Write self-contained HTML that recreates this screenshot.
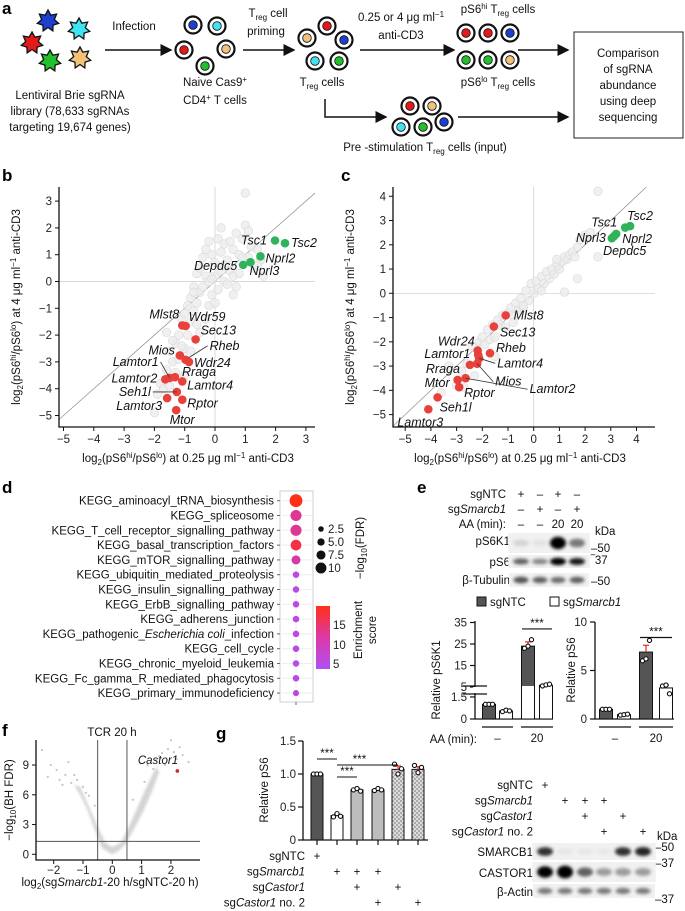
<!DOCTYPE html>
<html><head><meta charset="utf-8">
<style>
html,body{margin:0;padding:0;background:#fff;}
svg{display:block;font-family:"Liberation Sans",Arial,sans-serif;}
.pl{font-weight:bold;font-size:17px;}
.t{font-size:11.5px;fill:#111;}
.tk{font-size:11.5px;fill:#222;}
.it{font-style:italic;}
</style></head>
<body>
<svg id="fig" width="685" height="911" viewBox="0 0 685 911" xmlns="http://www.w3.org/2000/svg">
<defs>
<marker id="arr" markerWidth="8" markerHeight="8" refX="7" refY="4" orient="auto"><path d="M0,0 L8,4 L0,8 z" fill="#111"/></marker>
<filter id="blur" x="-30%" y="-60%" width="160%" height="220%"><feGaussianBlur stdDeviation="1.6"/></filter>
<filter id="soft" x="-10%" y="-10%" width="120%" height="120%"><feGaussianBlur stdDeviation="1.2"/></filter>
<clipPath id="clipB"><rect x="59" y="187" width="256" height="240"/></clipPath>
<clipPath id="clipC"><rect x="393" y="187" width="262" height="240"/></clipPath>
<linearGradient id="cbar" x1="0" y1="0" x2="0" y2="1"><stop offset="0" stop-color="#ff3018"/><stop offset="0.5" stop-color="#dc38a8"/><stop offset="1" stop-color="#b050f2"/></linearGradient>
<pattern id="chk" width="4" height="4" patternUnits="userSpaceOnUse"><rect width="4" height="4" fill="#ddd"/><rect width="2" height="2" fill="#aaa"/><rect x="2" y="2" width="2" height="2" fill="#aaa"/></pattern>
</defs>

<text class="pl" x="2" y="14">a</text>
<text class="pl" x="2" y="181">b</text>
<text class="pl" x="341" y="181">c</text>
<text class="pl" x="2" y="493">d</text>
<text class="pl" x="417" y="493">e</text>
<text class="pl" x="2" y="736">f</text>
<text class="pl" x="216" y="739">g</text>

<g id="panelA">
<text class="t" x="134" y="30" text-anchor="middle">Infection</text>
<line x1="105" y1="50" x2="171" y2="50" stroke="#111" stroke-width="1.5" marker-end="url(#arr)"/>
<text class="t" x="268" y="17" text-anchor="middle">T<tspan font-size="8" dy="3">reg</tspan><tspan dy="-3"> cell</tspan></text>
<text class="t" x="266" y="35" text-anchor="middle">priming</text>
<line x1="243" y1="50" x2="294" y2="50" stroke="#111" stroke-width="1.5" marker-end="url(#arr)"/>
<text class="t" x="401" y="21" text-anchor="middle">0.25 or 4 μg ml<tspan font-size="8" dy="-4">−1</tspan></text>
<text class="t" x="401" y="39" text-anchor="middle">anti-CD3</text>
<line x1="360" y1="50" x2="454" y2="50" stroke="#111" stroke-width="1.5" marker-end="url(#arr)"/>
<text class="t" x="498" y="13" text-anchor="middle">pS6<tspan font-size="8" dy="-4">hi</tspan><tspan dy="4"> T</tspan><tspan font-size="8" dy="3">reg</tspan><tspan dy="-3"> cells</tspan></text>
<text class="t" x="498" y="86" text-anchor="middle">pS6<tspan font-size="8" dy="-4">lo</tspan><tspan dy="4"> T</tspan><tspan font-size="8" dy="3">reg</tspan><tspan dy="-3"> cells</tspan></text>
<line x1="518" y1="50" x2="568" y2="50" stroke="#111" stroke-width="1.5" marker-end="url(#arr)"/>
<rect x="574" y="32" width="109" height="106" fill="#fff" stroke="#222" stroke-width="1"/>
<text class="t" text-anchor="middle"><tspan x="628" y="57">Comparison</tspan><tspan x="628" y="73">of sgRNA</tspan><tspan x="628" y="89">abundance</tspan><tspan x="628" y="105">using deep</tspan><tspan x="628" y="121">sequencing</tspan></text>
<text class="t" x="70" y="99" text-anchor="middle">Lentiviral Brie sgRNA</text>
<text class="t" x="70" y="115" text-anchor="middle">library (78,633 sgRNAs</text>
<text class="t" x="70" y="131" text-anchor="middle">targeting 19,674 genes)</text>
<text class="t" x="215" y="86" text-anchor="middle">Naive Cas9<tspan font-size="8" dy="-4">+</tspan></text>
<text class="t" x="215" y="104" text-anchor="middle">CD4<tspan font-size="8" dy="-4">+</tspan><tspan dy="4"> T cells</tspan></text>
<text class="t" x="322" y="86" text-anchor="middle">T<tspan font-size="8" dy="3">reg</tspan><tspan dy="-3"> cells</tspan></text>
<path d="M325,99 L325,117 L386,117" fill="none" stroke="#111" stroke-width="1.5" marker-end="url(#arr)"/>
<line x1="458" y1="117" x2="568" y2="117" stroke="#111" stroke-width="1.5" marker-end="url(#arr)"/>
<text class="t" x="425" y="151" text-anchor="middle">Pre -stimulation T<tspan font-size="8" dy="3">reg</tspan><tspan dy="-3"> cells (input)</tspan></text>
</g>

<g id="panelDstatic">
<rect x="280" y="491" width="33" height="211" fill="#fff" stroke="#cfcfcf"/>
<line x1="296" y1="491" x2="296" y2="702" stroke="#ececec"/>
<rect x="316" y="606" width="14" height="63" fill="url(#cbar)"/>
<text class="tk" x="333" y="629">15</text>
<text class="tk" x="333" y="649">10</text>
<text class="tk" x="333" y="668">5</text>
<text class="t" transform="translate(364,548) rotate(-90)" text-anchor="middle">−log<tspan font-size="8" dy="3">10</tspan><tspan dy="-3">(FDR)</tspan></text>
<text class="t" transform="translate(362,630) rotate(-90)" text-anchor="middle">Enrichment</text>
<text class="t" transform="translate(376,630) rotate(-90)" text-anchor="middle">score</text>
</g>

<g id="panelEstatic">
<text class="t" x="506" y="498" text-anchor="end">sgNTC</text>
<text class="t" x="506" y="513" text-anchor="end">sg<tspan class="it">Smarcb1</tspan></text>
<text class="t" x="506" y="528" text-anchor="end">AA (min):</text>
<text class="t" x="510" y="545" text-anchor="end">pS6K1</text>
<text class="t" x="510" y="566" text-anchor="end">pS6</text>
<text class="t" x="510" y="584" text-anchor="end">β-Tubulin</text>
<text class="t" x="595" y="535">kDa</text>
<text class="t" x="591" y="552">–50</text>
<text class="t" x="591" y="564">‾37</text>
<text class="t" x="591" y="585">–50</text>
<rect x="477" y="597" width="9" height="9" fill="#555" stroke="#111"/>
<text class="t" x="490" y="606">sgNTC</text>
<rect x="550" y="597" width="9" height="9" fill="#fff" stroke="#111"/>
<text class="t" x="563" y="606">sg<tspan class="it">Smarcb1</tspan></text>
<text class="t" transform="translate(440,680) rotate(-90)" text-anchor="middle">Relative pS6K1</text>
<text class="t" transform="translate(575,670) rotate(-90)" text-anchor="middle">Relative pS6</text>
<text class="t" x="477" y="743" text-anchor="end">AA (min):</text>
</g>

<g id="panelFGstatic">
<text class="t" x="112" y="736" text-anchor="middle" font-size="12">TCR 20 h</text>
<text class="t" x="657" y="840">kDa</text>
<text class="t" x="655" y="851">–50</text>
<text class="t" x="655" y="867">–37</text>
<text class="t" x="655" y="903">–37</text>
<text class="t" x="533" y="856" text-anchor="end">SMARCB1</text>
<text class="t" x="533" y="877" text-anchor="end">CASTOR1</text>
<text class="t" x="533" y="896" text-anchor="end">β-Actin</text>
<text class="t" x="110" y="886" text-anchor="middle">log<tspan font-size="8" dy="3">2</tspan><tspan dy="-3">(sg</tspan><tspan class="it">Smarcb1</tspan>-20 h/sgNTC-20 h)</text>
<text class="t" transform="translate(13,800) rotate(-90)" text-anchor="middle">−log<tspan font-size="8" dy="3">10</tspan><tspan dy="-3">(BH FDR)</tspan></text>
<text class="t" transform="translate(268,790) rotate(-90)" text-anchor="middle">Relative pS6</text>
</g>
</svg>

<script>
// ===== Data =====
const bGrayX = [-2,-1.9,-1.8,-1.7,-1.6,-1.5,-1.5,-1.4,-1.3,-1.3,-1.2,-1.2,-1.1,-1.0,-1.0,-0.9,-0.9,-0.8,-0.8,-0.7,-0.7,-0.6,-0.6,-0.5,-0.5,-0.4,-0.4,-0.3,-0.3,-0.2,-0.2,-0.1,-0.1,0,0,0.1,0.1,0.2,0.2,0.3,0.3,0.4,0.4,0.5,0.5,0.6,0.6,0.7,0.7,0.8,0.8,0.9,1.0,1.1,1.2,1.3,1.4,1.5,1.6,1.0,1.4,-1.6,-1.0,-0.3,0.2,-0.6,-0.2,0.6,1.1,-1.1,-0.8,-0.5,-0.1,0.3,0.9,-1.4,-0.7,0.0];
const bGrayY = [-4.9,-4.2,-3.8,-4.0,-3.3,-2.6,-3.9,-3.0,-3.4,-2.3,-2.0,-2.9,-1.4,-1.2,-2.5,-0.9,-2.0,-0.6,-1.5,-0.2,-1.1,0.3,-0.8,0.5,-0.4,0.9,-0.2,1.2,0.2,1.5,0.0,1.0,-0.5,0.7,0.2,1.6,-0.3,1.1,0.4,1.4,0.0,0.8,-0.1,1.5,0.4,1.2,0.2,1.8,-0.2,1.0,0.3,1.6,2.1,1.9,1.3,0.5,1.2,0.8,0.2,3.3,0.6,-1.9,-3.5,-1.4,2.0,-1.6,-0.9,-0.5,0.9,-2.4,-2.6,-1.9,0.1,0.6,0.9,-2.2,-0.4,-0.8];
const bGenes = ["Tsc1","Tsc2","Nprl2","Nprl3","Depdc5","Mlst8","Wdr59","Sec13","Mios","Rheb","Wdr24","Rraga","Lamtor1","Lamtor2","Lamtor4","Seh1l","Lamtor3","Rptor","Mtor"];
const bGeneX = [1.98,2.31,1.5,1.17,0.93,-1.08,-0.97,-0.64,-1.16,-0.97,-0.86,-1.32,-1.5,-1.64,-1.08,-1.26,-1.58,-1.08,-1.28];
const bGeneY = [1.53,1.43,0.94,0.72,0.62,-1.64,-1.66,-2.16,-2.76,-2.92,-3.0,-3.57,-3.6,-3.65,-3.73,-4.12,-4.35,-4.41,-4.8];
const bGeneGroup = ["g","g","g","g","g","r","r","r","r","r","r","r","r","r","r","r","r","r","r"];
const bLabDx = [-8,6,5,-1,-6,-3,3,5,-5,24,5,7,-11,-8,5,-26,-5,5,6];
const bLabDy = [4,4,6,13,5,-7,-5,-5,-1,-10,5,-1,-12,3,8,4,12,8,14];
const bLabAnchor = ["end","start","start","start","end","end","start","start","end","start","start","start","end","end","start","end","end","start","middle"];
const bLeader = [0,0,0,0,0,0,0,0,0,1,0,0,1,0,0,1,0,0,0];
const bTicks = [-5,-4,-3,-2,-1,0,1,2,3];

const cGrayX = [-3.3,-3.0,-2.8,-2.6,-2.4,-2.3,-2.1,-2.0,-1.9,-1.8,-1.7,-1.6,-1.5,-1.4,-1.3,-1.2,-1.1,-1.0,-0.9,-0.8,-0.7,-0.6,-0.5,-0.4,-0.3,-0.2,-0.1,0,0.1,0.2,0.3,0.4,0.5,0.6,0.7,0.8,0.9,1.0,1.1,1.2,1.3,1.4,1.5,1.6,1.7,1.8,2.0,2.2,2.5,1.2,1.7,2.5,-0.4,-0.8,-1.5,0.3,0.9,2.0,-3.6,-2.7];
const cGrayY = [-3.0,-3.8,-3.2,-2.9,-2.2,-3.4,-2.0,-1.8,-2.1,-1.5,-1.9,-1.3,-1.8,-1.1,-1.3,-0.9,-1.4,-0.8,-0.6,-0.9,-0.4,-0.7,-0.2,-0.6,0.1,-0.3,0.4,0.0,0.5,0.2,0.7,0.4,0.9,0.6,1.0,0.8,1.2,1.0,1.3,1.5,1.4,1.6,1.7,1.5,1.9,2.2,2.4,2.5,1.5,0.05,0.6,4.2,-0.5,-1.2,-2.6,0.1,1.4,2.3,-4.1,-3.9];
const cGenes = ["Tsc2","Tsc1","Nprl2","Nprl3","Depdc5","Mlst8","Sec13","Rheb","Wdr24","Lamtor1","Lamtor4","Mios","Rraga","Lamtor2","Mtor","Rptor","Seh1l","Lamtor3"];
const cGeneX = [3.75,3.56,3.21,3.04,3.13,-1.09,-1.55,-1.7,-2.18,-2.16,-2.12,-2.2,-2.48,-2.65,-2.96,-2.9,-3.74,-4.1];
const cGeneY = [2.77,2.71,2.45,2.27,2.36,-0.91,-1.37,-2.47,-2.36,-2.54,-2.68,-2.9,-2.95,-3.5,-3.57,-3.87,-4.29,-4.78];
const cGeneGroup = ["g","g","g","g","g","r","r","r","r","r","r","r","r","r","r","r","r","r"];
const cLabDx = [-3,-8,6,-6,-11,8,6,6,-3,-8,18,18,-10,64,-8,5,2,-31];
const cLabDy = [-6,-1,9,4,19,4,10,-1,-5,3,9,22,8,15,7,10,14,17];
const cLabAnchor = ["start","end","start","end","start","start","start","start","end","end","start","start","end","start","end","start","start","start"];
const cLeader = [0,0,0,0,0,0,0,0,0,0,1,1,0,1,0,0,0,0];
const cXTicks = [-5,-4,-3,-2,-1,0,1,2,3,4];
const cYTicks = [-5,-4,-3,-2,-1,0,1,2,3,4];

const dPathways = ["KEGG_aminoacyl_tRNA_biosynthesis","KEGG_spliceosome","KEGG_T_cell_receptor_signalling_pathway","KEGG_basal_transcription_factors","KEGG_mTOR_signalling_pathway","KEGG_ubiquitin_mediated_proteolysis","KEGG_insulin_signalling_pathway","KEGG_ErbB_signalling_pathway","KEGG_adherens_junction","KEGG_pathogenic_Escherichia_coli_infection","KEGG_cell_cycle","KEGG_chronic_myeloid_leukemia","KEGG_Fc_gamma_R_mediated_phagocytosis","KEGG_primary_immunodeficiency"];
const dFdr = [10,8,8,7.5,5.5,2.5,2.5,2.5,2.5,2.5,2.5,2.5,2.5,2];
const dScore = [18,12,12,16,11,6.5,6.5,6.5,6.5,6.5,6.5,6.5,6.5,7.5];
const dSizeLegend = [2.5,5.0,7.5,10];
const dSizeLegendText = ["2.5","5.0","7.5","10"];

const eGroups = ["sgNTC","sgSmarcb1","sgNTC","sgSmarcb1"];
const eAA = ["–","–","20","20"];
const eNTCrow = ["+","–","+","–"];
const eSmrow = ["–","+","–","+"];
const eLeftMean = [1.0,0.55,24,5.8];
const eLeftErr = [0.03,0.08,2,0.4];
const eLeftPts = [[1,1,1],[0.5,0.6,0.55],[23,24,27],[5.5,6,6.3]];
const eRightMean = [1.0,0.45,6.9,3.2];
const eRightErr = [0.02,0.08,0.7,0.3];
const eRightPts = [[1,1,1],[0.4,0.45,0.5],[6.0,6.2,8.1],[3.4,3.5,2.6]];
const eLeftTicks = [0,1.5,5,15,25,35];
const eLeftTickText = ["0","1.5","5","15","25","35"];
const eRightTicks = [0,5,10];
const eBlotPS6K1 = [0.12,0.06,1.2,0.5];
const eBlotPS6 = [0.6,0.45,1.0,0.9];
const eBlotTub = [0.65,0.6,0.55,0.6];

const fXTicks = [-2,-1,0,1,2];
const fYTicks = [0,3,6,9];
const fCloudX = [0,-0.35,-0.6,-0.85,-1.1,-1.3,-1.1,-0.8,-0.5,-0.25,-0.05,0.05,0.3,0.6,0.9,1.2,1.5,1.6,1.35,1.05,0.75,0.45,0.2];
const fCloudY = [0,0.6,2.5,4.5,6.0,7.0,6.8,4.8,2.8,1.2,0.8,0.8,1.2,3.0,5.0,7.0,8.8,8.3,6.3,4.3,2.6,1.0,0.3];
const fOutX = [-2.4,-2.1,-1.9,-1.6,-1.5,-1.2,-1.0,-0.8,1.5,1.7,1.9,2.0,2.3,2.4,2.1,2.6,1.2,-2.2,-1.7,-0.6,0.7,1.1,-1.4,-1.3,-0.9,1.8,1.6,2.2,-1.8,1.4];
const fOutY = [10.5,9,8.5,8,9.3,7.5,6.8,5.9,9.5,10.2,10.6,11.5,10.8,10.0,10.3,9.3,9.0,7.8,7.0,4.9,5.5,7.3,7.2,8.0,6.2,9.0,9.9,9.6,7.5,8.6];
const fHitX = [2.22];
const fHitY = [8.4];

const gMeans = [1.0,0.37,0.76,0.76,1.07,1.07];
const gErr = [0.0,0.02,0.02,0.02,0.05,0.04];
const gPts = [[1,1,1],[0.35,0.4,0.36],[0.76,0.78,0.74],[0.75,0.78,0.76],[1.15,1.0,1.08],[1.13,1.02,1.1]];
const gFill = ["#555","#fff","#bdbdbd","#bdbdbd","url(#chk)","url(#chk)"];
const gTicks = [0,0.5,1.0,1.5];
const gTickText = ["0","0.5","1.0","1.5"];
const gNTC = [1,0,0,0,0,0];
const gSm = [0,1,1,1,0,0];
const gCa = [0,0,1,0,1,0];
const gCa2 = [0,0,0,1,0,1];
const gBlotNTC = [1,0,0,0,0,0];
const gBlotSm = [0,1,1,1,0,0];
const gBlotCa = [0,0,1,0,1,0];
const gBlotCa2 = [0,0,0,1,0,1];
const gSmarcb1 = [0.8,0.05,0.05,0.04,0.8,0.85];
const gCastor1 = [1.0,1.25,0.6,0.35,0.35,0.35];
const gActin = [0.5,0.5,0.5,0.5,0.5,0.5];

// ===== Drawing =====
const NS = "http://www.w3.org/2000/svg";
const svg = document.getElementById("fig");
function mk(tag, parent){ const e = document.createElementNS(NS, tag); (parent||svg).appendChild(e); return e; }
function sa(e, o){ for (const k in o) e.setAttribute(k, o[k]); return e; }

const cellColors = {b:"#1e3fd0",c:"#3fe3f2",r:"#e41a1a",g:"#22c02a",t:"#f2c27a"};
const cellDefs = [[193,25,"b"],[217,26,"c"],[184,50,"r"],[226,49,"t"],[205,66,"g"],
 [327,26,"r"],[307,38,"t"],[344,40,"b"],[315,61,"c"],[339,61,"g"],
 [466,33,"r"],[488,33,"r"],[510,33,"b"],[466,60,"g"],[488,60,"g"],[510,60,"t"],
 [410,106,"r"],[432,106,"t"],[401,127,"c"],[423,127,"g"],[444,122,"b"]];
const aG = document.getElementById("panelA");
cellDefs.forEach(function(c){
  const o = mk("circle", aG); sa(o,{cx:c[0],cy:c[1],r:8.5,fill:"#fff",stroke:"#111","stroke-width":2.2});
  
  
  const i = mk("circle", aG); sa(i,{cx:c[0],cy:c[1],r:4.3,fill:cellColors[c[2]],stroke:"#111","stroke-width":0.8});
  
  
});
const stars = [[48,21,"b"],[79,29,"c"],[32,43,"r"],[50,61,"g"],[80,58,"t"]];
stars.forEach(function(s){
  let pts = [];
  for (let k=0;k<14;k++){ const a = Math.PI*2*k/14 - Math.PI/2; const r = k%2? 6.5:11; pts.push((s[0]+r*Math.cos(a)).toFixed(1)+","+(s[1]+r*Math.sin(a)).toFixed(1)); }
  const p = mk("polygon", aG); sa(p,{points:pts.join(" "),fill:cellColors[s[2]],stroke:"#111","stroke-width":1.3});
  
  
});

function scatter(cfg){
  const g = mk("g"); 
  
  
  const X = v => cfg.x0 + cfg.ux*v, Y = v => cfg.y0 - cfg.uy*v;
  const hl = mk("line", g); sa(hl,{x1:cfg.L,x2:cfg.R,y1:Y(0),y2:Y(0),stroke:"#ccc","stroke-width":0.7});
  
  
  const vl = mk("line", g); sa(vl,{x1:X(0),x2:X(0),y1:cfg.T,y2:cfg.B,stroke:"#ccc","stroke-width":0.7});
  
  
  const dl = mk("line", g); sa(dl,{x1:X(-6),y1:Y(-6),x2:X(6),y2:Y(6),stroke:"#999","stroke-width":0.8,"clip-path":cfg.clip});
  
  
  for (let i=0;i<Math.min(cfg.gx.length,cfg.gy.length);i++){
    const c = mk("circle", g); sa(c,{cx:X(cfg.gx[i]),cy:Y(cfg.gy[i]),r:4.3,fill:"#ececec","fill-opacity":0.8,stroke:"#d9d9d9","stroke-width":0.6});
    
    
  }
  for (let i=0;i<cfg.genes.length;i++){
    const px = X(cfg.hx[i]), py = Y(cfg.hy[i]);
    const c = mk("circle", g); sa(c,{cx:px,cy:py,r:4.3,fill:cfg.grp[i]==="g"?"#2fb35a":"#e8413c"});
    
    
    const tx = px + cfg.dx[i], ty = py + cfg.dy[i];
    if (cfg.lead[i]){
      const ln = mk("line", g); sa(ln,{x1:px,y1:py,x2:tx+(cfg.anc[i]==="end"?2:-2),y2:ty-4,stroke:"#333","stroke-width":0.8});
      
      
    }
    const t = mk("text", g); sa(t,{x:tx,y:ty,"text-anchor":cfg.anc[i],"font-size":12.5,"font-style":"italic",fill:"#111"});
    t.textContent = cfg.genes[i];
    
    
  }
  const ax = mk("path", g); sa(ax,{d:`M${cfg.L},${cfg.T} L${cfg.L},${cfg.B} L${cfg.R},${cfg.B}`,fill:"none",stroke:"#111","stroke-width":1.3});
  
  
  cfg.xt.forEach(function(v){
    const tk = mk("line", g); sa(tk,{x1:X(v),x2:X(v),y1:cfg.B,y2:cfg.B+4,stroke:"#111"});
    
    
    const t = mk("text", g); sa(t,{x:X(v),y:cfg.B+16,"text-anchor":"middle","class":"tk"});
    t.textContent = v<0 ? "−"+Math.abs(v) : String(v);
    
    
  });
  cfg.yt.forEach(function(v){
    const tk = mk("line", g); sa(tk,{x1:cfg.L-4,x2:cfg.L,y1:Y(v),y2:Y(v),stroke:"#111"});
    
    
    const t = mk("text", g); sa(t,{x:cfg.L-7,y:Y(v)+4,"text-anchor":"end","class":"tk"});
    t.textContent = v<0 ? "−"+Math.abs(v) : String(v);
    
    
  });
  const xt = mk("text", g); sa(xt,{x:cfg.xtx,y:462,"text-anchor":"middle","class":"t","font-size":12});
  xt.innerHTML = 'log<tspan font-size="8" dy="3">2</tspan><tspan dy="-3">(pS6</tspan><tspan font-size="8" dy="-4">hi</tspan><tspan dy="4">/pS6</tspan><tspan font-size="8" dy="-4">lo</tspan><tspan dy="4">) at 0.25 μg ml</tspan><tspan font-size="8" dy="-4">−1</tspan><tspan dy="4"> anti-CD3</tspan>';
  
  
  const yt = mk("text", g); sa(yt,{transform:`translate(${cfg.ytx},${(cfg.T+cfg.B)/2}) rotate(-90)`,"text-anchor":"middle","class":"t","font-size":12});
  yt.innerHTML = 'log<tspan font-size="8" dy="3">2</tspan><tspan dy="-3">(pS6</tspan><tspan font-size="8" dy="-4">hi</tspan><tspan dy="4">/pS6</tspan><tspan font-size="8" dy="-4">lo</tspan><tspan dy="4">) at 4 μg ml</tspan><tspan font-size="8" dy="-4">−1</tspan><tspan dy="4"> anti-CD3</tspan>';
  
  
}
scatter({name:"panel-b-scatter",x0:215,ux:30.3,y0:281.5,uy:26.8,L:59,R:315,T:187,B:427,clip:"url(#clipB)",
  gx:bGrayX,gy:bGrayY,genes:bGenes,hx:bGeneX,hy:bGeneY,grp:bGeneGroup,dx:bLabDx,dy:bLabDy,anc:bLabAnchor,lead:bLeader,
  xt:bTicks,yt:bTicks,xtx:188,ytx:20});
scatter({name:"panel-c-scatter",x0:533.7,ux:25.7,y0:293.3,uy:24.26,L:393,R:655,T:187,B:427,clip:"url(#clipC)",
  gx:cGrayX,gy:cGrayY,genes:cGenes,hx:cGeneX,hy:cGeneY,grp:cGeneGroup,dx:cLabDx,dy:cLabDy,anc:cLabAnchor,lead:cLeader,
  xt:cXTicks,yt:cYTicks,xtx:520,ytx:354});

(function(){
  const g = mk("g");
  
  
  const rowY = i => 500.7 + i*14.8;
  const rad = v => 2.2 + v*0.42;
  function col(s){
    const stops = [[5,[176,80,242]],[10,[208,60,190]],[15,[240,48,90]],[18,[255,48,24]]];
    s = Math.max(5, Math.min(18, s));
    for (let k=0;k<stops.length-1;k++){
      if (s <= stops[k+1][0]){ const f=(s-stops[k][0])/(stops[k+1][0]-stops[k][0]); const a=stops[k][1], b=stops[k+1][1];
        return `rgb(${Math.round(a[0]+f*(b[0]-a[0]))},${Math.round(a[1]+f*(b[1]-a[1]))},${Math.round(a[2]+f*(b[2]-a[2]))})`; }
    }
    return "rgb(255,48,24)";
  }
  dPathways.forEach(function(p,i){
    const gl = mk("line", g); sa(gl,{x1:280,x2:313,y1:rowY(i),y2:rowY(i),stroke:"#eee"});
    
    
    const tk = mk("line", g); sa(tk,{x1:277,x2:280,y1:rowY(i),y2:rowY(i),stroke:"#666"});
    
    
    const t = mk("text", g); sa(t,{x:274,y:rowY(i)+4,"text-anchor":"end","class":"t"});
    if (p.indexOf("Escherichia")>=0){ t.innerHTML = 'KEGG_pathogenic_<tspan font-style="italic">Escherichia coli</tspan>_infection'; }
    else t.textContent = p;
    
    
    const c = mk("circle", g); sa(c,{cx:296,cy:rowY(i),r:rad(dFdr[i]),fill:col(dScore[i])});
    
    
  });
  const bt = mk("line", g); sa(bt,{x1:296,x2:296,y1:702,y2:705,stroke:"#666"});
  
  
  dSizeLegend.forEach(function(v,i){
    const y = 529 + i*13;
    const c = mk("circle", g); sa(c,{cx:321,cy:y,r:rad(v)*0.85,fill:"#111"});
    
    
    const t = mk("text", g); sa(t,{x:328,y:y+4,"class":"tk","font-size":12});
    t.textContent = dSizeLegendText[i];
    
    
  });
})();

function blot(g, xs, y, h, vals, w, name){
  const bg = mk("rect", g); sa(bg,{x:xs[0]-w*0.8,y:y,width:(xs[xs.length-1]-xs[0])+w*1.6,height:h,fill:"#f1f1f1"});
  
  
  vals.forEach(function(v,i){
    const e = mk("ellipse", g); sa(e,{cx:xs[i],cy:y+h/2,rx:w/2,ry:Math.max(1.5,h*0.22*(0.7+v*0.6)),fill:"#000","fill-opacity":Math.min(1,v),filter:"url(#blur)"});
    
    
  });
}

(function(){
  const g = mk("g");
  
  
  const lanes = [521,540,558,577];
  lanes.forEach(function(x,i){
    [[eNTCrow[i],498],[eSmrow[i],513],[eAA[i],528]].forEach(function(r){
      const t = mk("text", g); sa(t,{x:x,y:r[1],"text-anchor":"middle","class":"t"});
      t.textContent = r[0];
      
      
    });
  });
  blot(g, lanes, 533, 20, eBlotPS6K1, 16, 'e-ps6k1');
  blot(g, lanes, 555, 13, eBlotPS6, 16, 'e-ps6');
  blot(g, lanes, 573, 14, eBlotTub, 15, 'e-tubulin');

  function barChart(o){
    const ax = mk("path", g); sa(ax,{d:o.axisD,fill:"none",stroke:"#111","stroke-width":1.3});
    
    
    o.ticks.forEach(function(v,i){
      const tk = mk("line", g); sa(tk,{x1:o.L-5,x2:o.L,y1:o.Y(v),y2:o.Y(v),stroke:"#111","stroke-width":1.2});
      
      
      const t = mk("text", g); sa(t,{x:o.L-8,y:o.Y(v)+4,"text-anchor":"end","class":"tk","font-size":12});
      t.textContent = o.tickText[i];
      
      
    });
    o.means.forEach(function(m,i){
      const x = o.xs[i];
      const top = o.Y(m);
      const b = mk("rect", g); sa(b,{x:x-6.5,y:top,width:13,height:o.B-top,fill:i%2===0?"#555":"#fff",stroke:"#111","stroke-width":1});
      
      
      if (o.brk && m > 1.5){
        const w = mk("rect", g); sa(w,{x:x-6,y:o.brk[0],width:12,height:o.B-o.brk[0]-0.5,fill:"#fff"});
        
        
      }
      const e1 = mk("path", g); sa(e1,{d:`M${x},${top} L${x},${o.Y(m+o.err[i])} M${x-3},${o.Y(m+o.err[i])} L${x+3},${o.Y(m+o.err[i])}`,stroke:"#e8322a","stroke-width":1.3,fill:"none"});
      
      
      o.pts[i].forEach(function(p,k){
        const c = mk("circle", g); sa(c,{cx:x-3.5+k*3.5,cy:o.Y(p),r:2.1,fill:"#fff",stroke:"#111","stroke-width":1.1});
        
        
      });
    });
    if (o.brk){
      [o.brk[0],o.brk[1]].forEach(function(y){
        const l = mk("line", g); sa(l,{x1:o.L-12,x2:o.L+12,y1:y,y2:y,stroke:"#111","stroke-width":1.2});
        
        
      });
      const wg = mk("rect", g); sa(wg,{x:o.L-2,y:o.brk[0]+1,width:4,height:o.brk[1]-o.brk[0]-2,fill:"#fff"});
      
      
    }
    const sy = o.Y(o.sigY);
    const sl = mk("line", g); sa(sl,{x1:o.xs[2]-6,x2:o.xs[3]+6,y1:sy,y2:sy,stroke:"#111","stroke-width":1.2});
    
    
    const st = mk("text", g); sa(st,{x:(o.xs[2]+o.xs[3])/2,y:sy-2,"text-anchor":"middle","class":"t","font-size":12});
    st.textContent = "***";
    
    
    [[0,1,"–"],[2,3,"20"]].forEach(function(gr){
      const l = mk("line", g); sa(l,{x1:o.xs[gr[0]]-7,x2:o.xs[gr[1]]+7,y1:727,y2:727,stroke:"#111","stroke-width":1.3});
      
      
      const t = mk("text", g); sa(t,{x:(o.xs[gr[0]]+o.xs[gr[1]])/2,y:742,"text-anchor":"middle","class":"t","font-size":12});
      t.textContent = gr[2];
      
      
    });
  }
  const YL = v => v<=1.5 ? 719 - v*14.7 : 687 - (v-5)*2.15;
  barChart({name:"e-ps6k1-chart",L:475,B:719,Y:YL,xs:[489,506,528,546],means:eLeftMean,err:eLeftErr,pts:eLeftPts,
    ticks:eLeftTicks,tickText:eLeftTickText,brk:[686,694],sigY:32,axisD:"M475,621 L475,719 L553,719"});
  const YR = v => 719 - v*9.7;
  barChart({name:"e-ps6-chart",L:595,B:719,Y:YR,xs:[606,624,646,666],means:eRightMean,err:eRightErr,pts:eRightPts,
    ticks:eRightTicks,tickText:["0","5","10"],brk:null,sigY:8.4,axisD:"M595,622 L595,719 L674,719"});
})();

(function(){
  const g = mk("g");
  
  
  const X = v => 112.3 + 29.3*v, Y = v => 854.3 - 9.92*v;
  const cloud = mk("polygon", g);
  sa(cloud,{points:fCloudX.map((x,i)=>X(x).toFixed(1)+","+Y(fCloudY[i]).toFixed(1)).join(" "),fill:"#cdcdcd","fill-opacity":0.85,filter:"url(#soft)"});
  
  
  fOutX.forEach(function(x,i){
    const c = mk("circle", g); sa(c,{cx:X(x),cy:Y(fOutY[i]),r:1.1,fill:"#c4c4c4"});
    
    
  });
  fHitX.forEach(function(x,i){
    const c = mk("circle", g); sa(c,{cx:X(x),cy:Y(fHitY[i]),r:1.8,fill:"#e0201c"});
    
    
  });
  const lbl = mk("text", g); sa(lbl,{x:158,y:764,"text-anchor":"middle","class":"t it"});
  lbl.textContent = "Castor1";
  
  
  [-0.5,0.5].forEach(function(v){
    const l = mk("line", g); sa(l,{x1:X(v),x2:X(v),y1:740,y2:860,stroke:"#555","stroke-width":1});
    
    
  });
  const h = mk("line", g); sa(h,{x1:36,x2:200,y1:Y(1.3),y2:Y(1.3),stroke:"#555","stroke-width":1});
  
  
  const ax = mk("path", g); sa(ax,{d:"M36,740 L36,860 L200,860",fill:"none",stroke:"#111","stroke-width":1.3});
  
  
  fXTicks.forEach(function(v){
    const tk = mk("line", g); sa(tk,{x1:X(v),x2:X(v),y1:860,y2:864,stroke:"#111"});
    
    
    const t = mk("text", g); sa(t,{x:X(v),y:874,"text-anchor":"middle","class":"tk","font-size":12});
    t.textContent = v<0 ? "−"+Math.abs(v) : String(v);
    
    
  });
  fYTicks.forEach(function(v){
    const tk = mk("line", g); sa(tk,{x1:32,x2:36,y1:Y(v),y2:Y(v),stroke:"#111"});
    
    
    const t = mk("text", g); sa(t,{x:29,y:Y(v)+4,"text-anchor":"end","class":"tk","font-size":12});
    t.textContent = String(v);
    
    
  });
})();

(function(){
  const g = mk("g");
  
  
  const Y = v => 840 - v*66;
  const xs = [317,337,357,378,398,418];
  const ax = mk("path", g); sa(ax,{d:"M303,741 L303,840 L428,840",fill:"none",stroke:"#111","stroke-width":1.3});
  
  
  gTicks.forEach(function(v,i){
    const tk = mk("line", g); sa(tk,{x1:298,x2:303,y1:Y(v),y2:Y(v),stroke:"#111","stroke-width":1.2});
    
    
    const t = mk("text", g); sa(t,{x:296,y:Y(v)+4,"text-anchor":"end","class":"tk","font-size":12});
    t.textContent = gTickText[i];
    
    
  });
  gMeans.forEach(function(m,i){
    const x = xs[i];
    const b = mk("rect", g); sa(b,{x:x-6,y:Y(m),width:12,height:840-Y(m),fill:gFill[i],stroke:"#111","stroke-width":1});
    
    
    const tk = mk("line", g); sa(tk,{x1:x,x2:x,y1:840,y2:845,stroke:"#111","stroke-width":1.2});
    
    
    if (gErr[i] > 0){
      const e = mk("path", g); sa(e,{d:`M${x},${Y(m)} L${x},${Y(m+gErr[i])} M${x-3},${Y(m+gErr[i])} L${x+3},${Y(m+gErr[i])}`,stroke:"#e8322a","stroke-width":1.3,fill:"none"});
      
      
    }
    gPts[i].forEach(function(p,k){
      const c = mk("circle", g); sa(c,{cx:x-3.5+k*3.5,cy:Y(p),r:2.1,fill:"#fff",stroke:"#111","stroke-width":1.1});
      
      
    });
  });
  [[0,1,759],[1,4,765],[1,2,777]].forEach(function(s){
    const l = mk("line", g); sa(l,{x1:xs[s[0]],x2:xs[s[1]],y1:s[2],y2:s[2],stroke:"#111","stroke-width":1});
    
    
    const t = mk("text", g); sa(t,{x:(xs[s[0]]+xs[s[1]])/2 + (s[1]===4?-8:0),y:s[2]-2,"text-anchor":"middle","class":"t","font-size":11});
    t.textContent = "***";
    
    
  });
  const rowNames = ['sgNTC','sg<tspan font-style="italic">Smarcb1</tspan>','sg<tspan font-style="italic">Castor1</tspan>','sg<tspan font-style="italic">Castor1</tspan> no. 2'];
  const rowsBar = [gNTC,gSm,gCa,gCa2];
  rowsBar.forEach(function(r,ri){
    const y = 860 + ri*15.5;
    const t = mk("text", g); sa(t,{x:305,y:y,"text-anchor":"end","class":"t","font-size":12});
    t.innerHTML = rowNames[ri];
    
    
    r.forEach(function(v,i){ if (v){
      const p = mk("text", g); sa(p,{x:xs[i],y:y,"text-anchor":"middle","class":"t","font-size":12});
      p.textContent = "+";
      
      
    }});
  });
  const lanes = [545,565,585,604,623,643];
  const rowsBlot = [gBlotNTC,gBlotSm,gBlotCa,gBlotCa2];
  rowsBlot.forEach(function(r,ri){
    const y = 789 + ri*15.5;
    const t = mk("text", g); sa(t,{x:533,y:y,"text-anchor":"end","class":"t","font-size":12});
    t.innerHTML = rowNames[ri];
    
    
    r.forEach(function(v,i){ if (v){
      const p = mk("text", g); sa(p,{x:lanes[i],y:y,"text-anchor":"middle","class":"t","font-size":12});
      p.textContent = "+";
      
      
    }});
  });
  blot(g, lanes, 843, 17, gSmarcb1, 16, 'g-smarcb1');
  blot(g, lanes, 862, 20, gCastor1, 16, 'g-castor1');
  blot(g, lanes, 884, 14, gActin, 15, 'g-actin');
})();
</script>
</body></html>
